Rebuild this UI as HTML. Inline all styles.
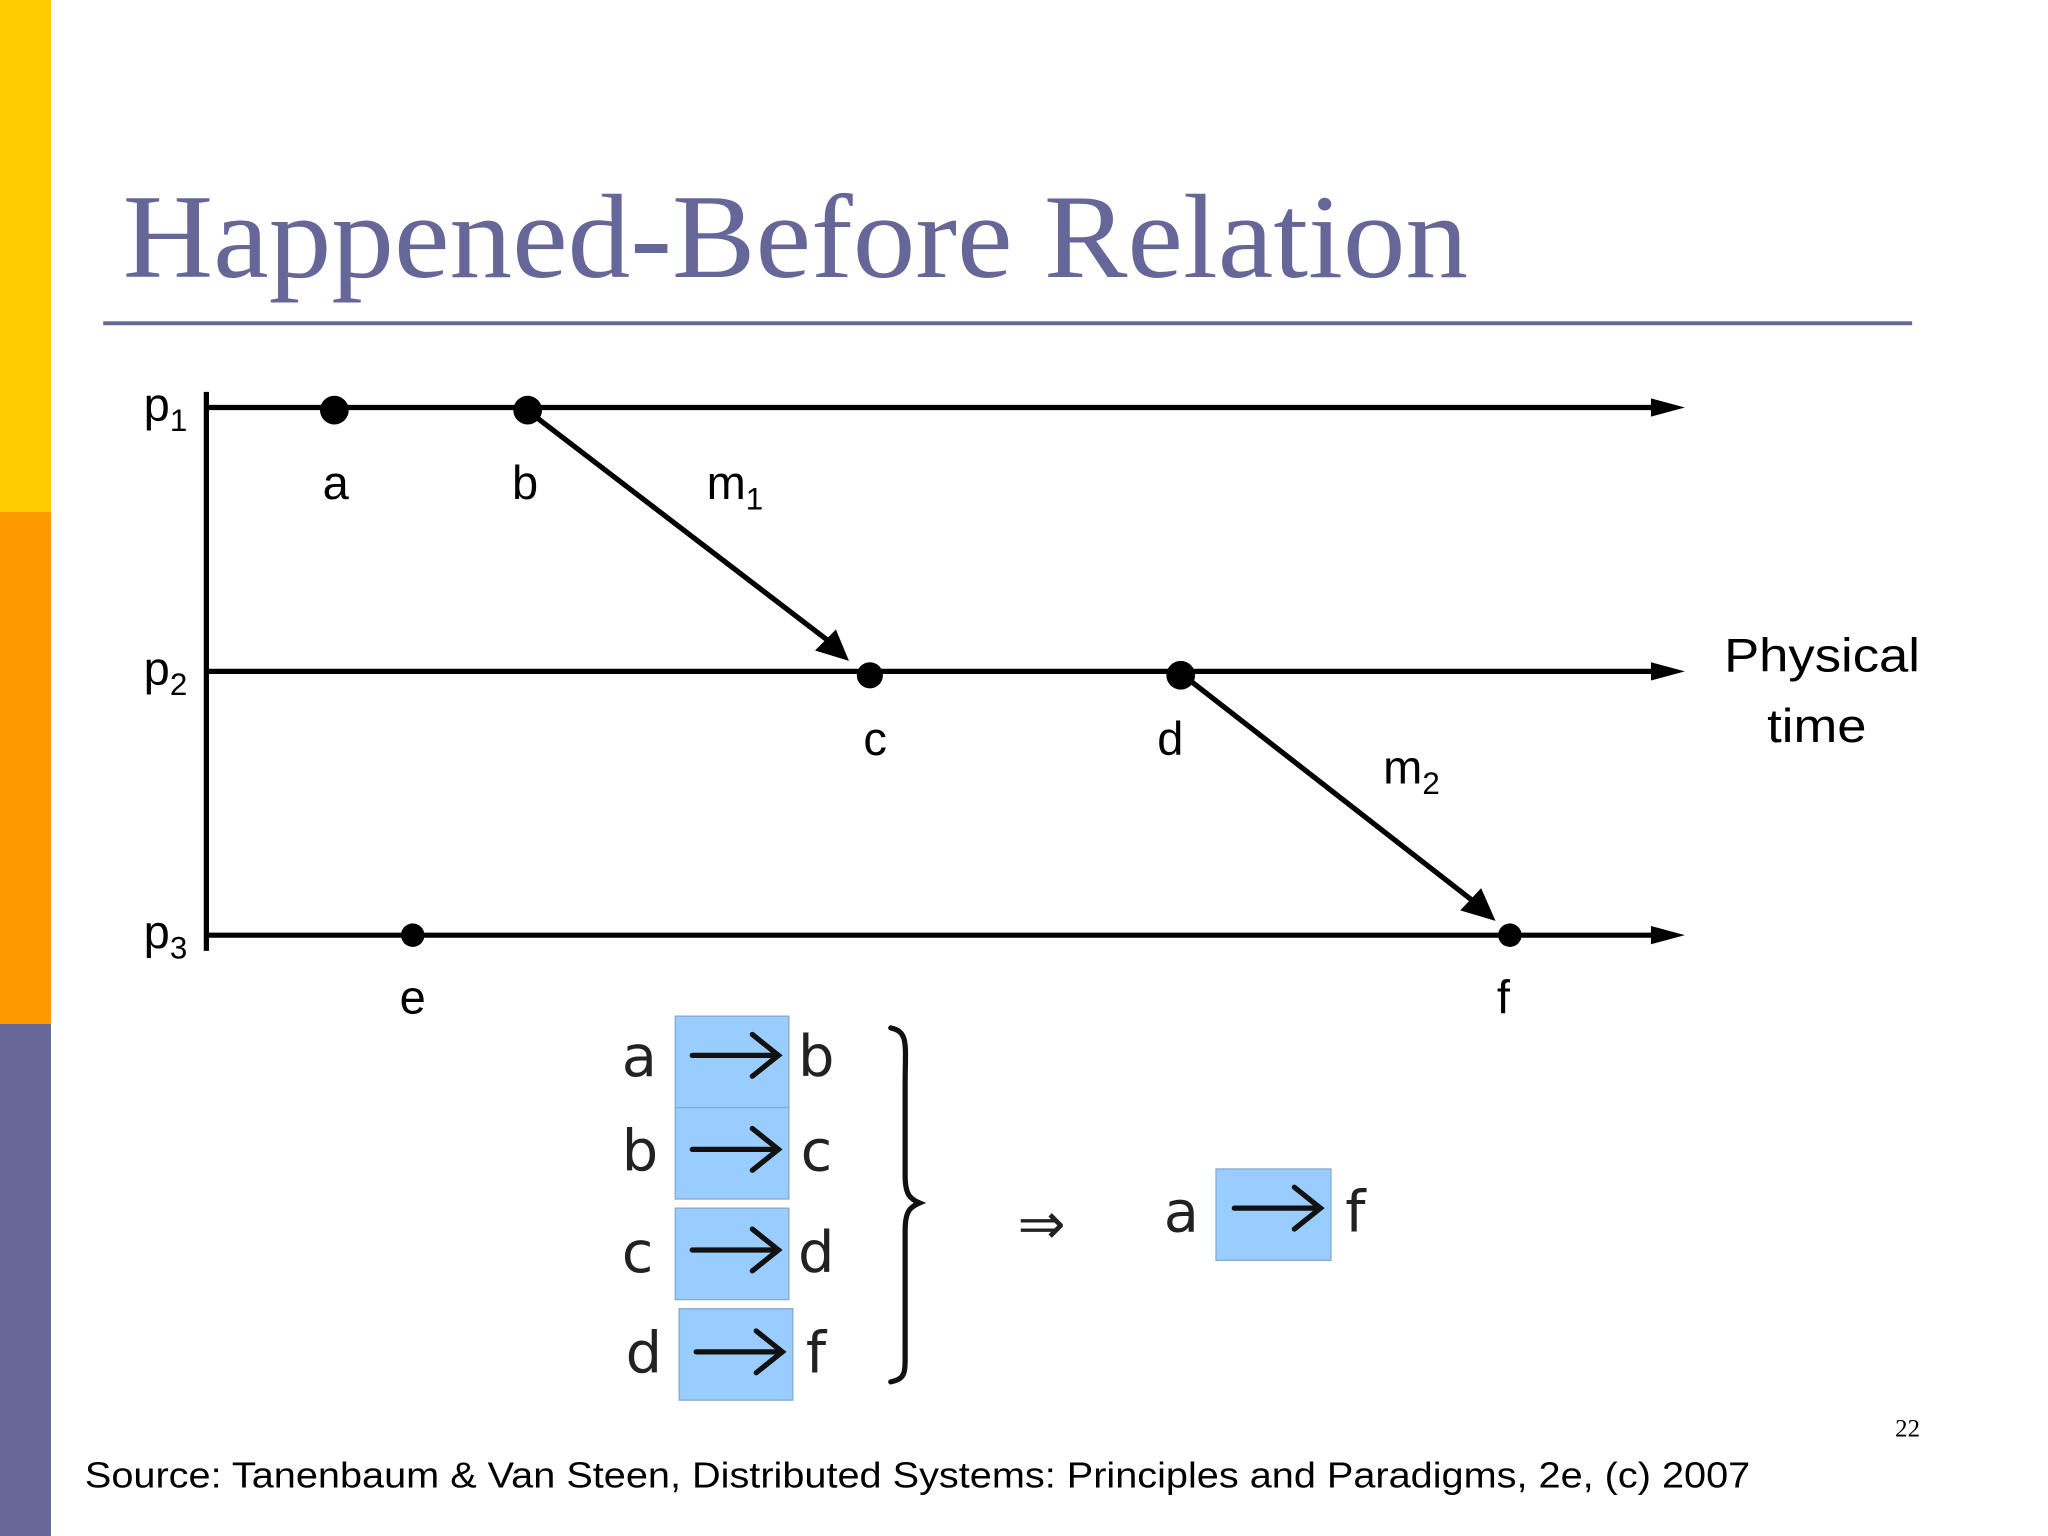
<!DOCTYPE html>
<html><head><meta charset="utf-8"><style>
html,body{margin:0;padding:0;background:#fff;}
svg{display:block;}
</style></head><body>
<svg width="2048" height="1536" viewBox="0 0 1568 1176" xmlns="http://www.w3.org/2000/svg">
<rect width="1568" height="1176" fill="#fff"/>
<rect x="0" y="0" width="39" height="392" fill="#FFCC00"/>
<rect x="0" y="392" width="39" height="392" fill="#FF9900"/>
<rect x="0" y="784" width="39" height="392" fill="#666699"/>
<text x="94" y="212" font-family="Liberation Serif, serif" font-size="92" fill="#666699" textLength="1030" lengthAdjust="spacingAndGlyphs">Happened-Before Relation</text>
<rect x="79" y="246" width="1385" height="3" fill="#666699"/>
<g stroke="#000" stroke-width="4" fill="none">
<line x1="158" y1="300" x2="158" y2="728"/>
<line x1="158" y1="312" x2="1270" y2="312"/>
<line x1="158" y1="514" x2="1270" y2="514"/>
<line x1="158" y1="716" x2="1270" y2="716"/>
</g>
<g fill="#000">
<path d="M1264,305 L1290,312 L1264,319 z"/>
<path d="M1264,507 L1290,514 L1264,521 z"/>
<path d="M1264,709 L1290,716 L1264,723 z"/>
<circle cx="256" cy="314" r="11"/>
<circle cx="404" cy="314" r="11"/>
<circle cx="666" cy="517" r="10"/>
<circle cx="904" cy="517" r="11"/>
<circle cx="316" cy="716" r="9"/>
<circle cx="1156" cy="716" r="9"/>
</g>
<g stroke="#000" stroke-width="4">
<line x1="406" y1="316" x2="636" y2="492"/>
<line x1="906" y1="517" x2="1128" y2="690"/>
</g>
<path d="M650,506 L624,498 L640,482 z" fill="#000"/>
<path d="M1145,705 L1118,697 L1134,680 z" fill="#000"/>
<g font-family="Liberation Sans, sans-serif" font-size="36" fill="#000">
<text x="110" y="322">p<tspan font-size="24" dy="8">1</tspan></text>
<text x="110" y="524">p<tspan font-size="24" dy="8">2</tspan></text>
<text x="110" y="726">p<tspan font-size="24" dy="8">3</tspan></text>
<text x="247" y="382">a</text>
<text x="392" y="382">b</text>
<text x="541" y="382">m<tspan font-size="24" dy="8">1</tspan></text>
<text x="661" y="578">c</text>
<text x="886" y="578">d</text>
<text x="1059" y="600">m<tspan font-size="24" dy="8">2</tspan></text>
<text x="306" y="776">e</text>
<text x="1146" y="776">f</text>
<text x="1320" y="514" textLength="150" lengthAdjust="spacingAndGlyphs">Physical</text>
<text x="1353" y="568" textLength="76" lengthAdjust="spacingAndGlyphs">time</text>
</g>
<g fill="#99CCFF" stroke="#88aacc" stroke-width="1">
<rect x="517" y="778" width="87" height="70"/>
<rect x="517" y="848" width="87" height="70"/>
<rect x="517" y="925" width="87" height="70"/>
<rect x="520" y="1002" width="87" height="70"/>
<rect x="931" y="895" width="88" height="70"/>
</g>
<g font-family="DejaVu Sans, sans-serif" font-size="44" fill="#222">
<text x="476" y="824">a</text><text x="611" y="824">b</text>
<text x="476" y="896">b</text><text x="613" y="896">c</text>
<text x="476" y="974">c</text><text x="611" y="974">d</text>
<text x="479" y="1051">d</text><text x="617" y="1051">f</text>
<text x="891" y="943">a</text><text x="1030" y="943">f</text>
</g>
<g stroke="#111" stroke-width="4" fill="none" stroke-linecap="round">
<path d="M530,808 H594 M576,792 L596,808 L576,824"/>
<path d="M530,880 H594 M576,864 L596,880 L576,896"/>
<path d="M530,957 H594 M576,941 L596,957 L576,973"/>
<path d="M533,1035 H597 M579,1019 L599,1035 L579,1051"/>
<path d="M945,925 H1009 M991,909 L1011,925 L991,941"/>
<path d="M682,787 C696,790 693,800 693,830 L693,900 C693,915 697,918 704,921 C697,924 693,927 693,942 L693,1030 C693,1052 694,1055 682,1058"/>
</g>
<text x="779" y="952" font-family="DejaVu Sans, sans-serif" font-size="44" fill="#222">⇒</text>
<text x="1451" y="1100" font-family="Liberation Serif, serif" font-size="19" fill="#000">22</text>
<text x="65" y="1139" font-family="Liberation Sans, sans-serif" font-size="28" fill="#000" textLength="1275" lengthAdjust="spacingAndGlyphs">Source: Tanenbaum &amp; Van Steen, Distributed Systems: Principles and Paradigms, 2e, (c) 2007</text>
</svg>
</body></html>
